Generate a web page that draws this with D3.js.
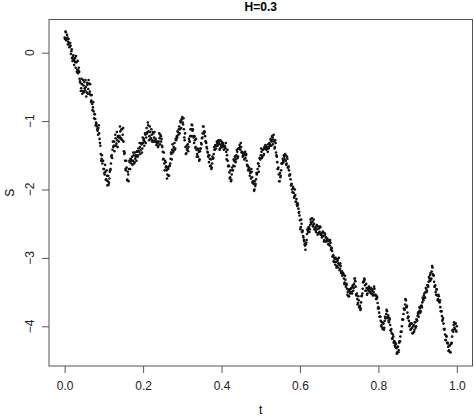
<!DOCTYPE html>
<html>
<head>
<meta charset="utf-8">
<script src="https://cdn.jsdelivr.net/npm/d3@7"></script>
<style>
  body { margin: 0; background: #fff; }
  text { font-family: "Liberation Sans", Arial, sans-serif; }
</style>
</head>
<body>
<div id="chart"></div>
<script>
const W = 474, H = 416;
const title = "H=0.3";
const xTicks = [0, 0.2, 0.4, 0.6, 0.8, 1.0];
const yTicks = [0, -1, -2, -3, -4];
const step = 0.002; // sampling interval in t

// S at t = 0, 0.002, 0.004 ... 1
const S = [
  0.22, 0.31, 0.18, 0.26, 0.12, 0.2, 0.08, 0.14, -0.02, 0.05,
  -0.12, -0.04, -0.18, -0.08, -0.22, -0.14, -0.25, -0.3, -0.22, -0.38,
  -0.44, -0.52, -0.46, -0.56, -0.48, -0.43, -0.55, -0.5, -0.58, -0.47,
  -0.53, -0.45, -0.57, -0.62, -0.7, -0.75, -0.8, -0.86, -0.9, -0.97,
  -1.02, -1.08, -1.14, -1.1, -1.18, -1.32, -1.48, -1.55, -1.62, -1.58,
  -1.7, -1.78, -1.74, -1.85, -1.8, -1.88, -1.93, -1.84, -1.72, -1.62,
  -1.5, -1.42, -1.38, -1.3, -1.36, -1.25, -1.33, -1.28, -1.22, -1.3,
  -1.22, -1.15, -1.25, -1.12, -1.2, -1.3, -1.48, -1.58, -1.72, -1.68,
  -1.86, -1.78, -1.7, -1.6, -1.55, -1.62, -1.52, -1.58, -1.5, -1.6,
  -1.55, -1.5, -1.45, -1.52, -1.4, -1.45, -1.38, -1.42, -1.34, -1.4,
  -1.32, -1.26, -1.3, -1.2, -1.24, -1.18, -1.02, -1.15, -1.22, -1.16,
  -1.25, -1.2, -1.28, -1.18, -1.24, -1.3, -1.26, -1.35, -1.3, -1.38,
  -1.3, -1.25, -1.2, -1.3, -1.36, -1.45, -1.55, -1.62, -1.58, -1.68,
  -1.72, -1.78, -1.7, -1.8, -1.65, -1.55, -1.48, -1.42, -1.46, -1.38,
  -1.32, -1.4, -1.28, -1.22, -1.15, -1.2, -1.08, -1.12, -1.02, -0.98,
  -0.94, -1.05, -1.12, -1.28, -1.38, -1.47, -1.42, -1.34, -1.38, -1.3,
  -1.22, -1.12, -1.05, -1.14, -1.22, -1.32, -1.28, -1.38, -1.42, -1.48,
  -1.52, -1.45, -1.56, -1.4, -1.32, -1.25, -1.18, -1.08, -1.15, -1.22,
  -1.3, -1.38, -1.45, -1.52, -1.6, -1.55, -1.65, -1.7, -1.62, -1.55,
  -1.48, -1.42, -1.35, -1.4, -1.3, -1.36, -1.28, -1.33, -1.4, -1.35,
  -1.3, -1.38, -1.32, -1.42, -1.36, -1.4, -1.45, -1.5, -1.58, -1.65,
  -1.75, -1.82, -1.88, -1.78, -1.72, -1.65, -1.58, -1.52, -1.6, -1.5,
  -1.45, -1.52, -1.4, -1.35, -1.42, -1.38, -1.45, -1.52, -1.48, -1.56,
  -1.45, -1.5, -1.58, -1.65, -1.72, -1.68, -1.8, -1.75, -1.7, -1.82,
  -1.88, -1.92, -2.0, -1.95, -1.85, -1.78, -1.7, -1.62, -1.66, -1.55,
  -1.5, -1.45, -1.52, -1.42, -1.48, -1.4, -1.35, -1.42, -1.38, -1.45,
  -1.4, -1.32, -1.36, -1.28, -1.3, -1.24, -1.27, -1.3, -1.38, -1.32,
  -1.5, -1.6, -1.7, -1.78, -1.88, -1.82, -1.72, -1.62, -1.55, -1.6,
  -1.52, -1.48, -1.58, -1.62, -1.55, -1.68, -1.72, -1.78, -1.85, -1.92,
  -2.0, -1.96, -2.05, -2.1, -2.08, -2.18, -2.22, -2.2, -2.28, -2.33,
  -2.45, -2.55, -2.5, -2.62, -2.68, -2.74, -2.8, -2.88, -2.78, -2.65,
  -2.6, -2.55, -2.62, -2.52, -2.48, -2.42, -2.47, -2.52, -2.5, -2.56,
  -2.6, -2.54, -2.58, -2.64, -2.57, -2.62, -2.55, -2.66, -2.7, -2.62,
  -2.68, -2.74, -2.66, -2.7, -2.76, -2.72, -2.8, -2.75, -2.82, -2.78,
  -2.85, -2.9, -2.98, -3.05, -3.0, -3.1, -3.06, -3.12, -3.04, -3.08,
  -3.1, -3.16, -3.12, -3.2, -3.26, -3.22, -3.3, -3.36, -3.32, -3.4,
  -3.45, -3.5, -3.56, -3.48, -3.52, -3.45, -3.5, -3.42, -3.48, -3.38,
  -3.3, -3.42, -3.55, -3.6, -3.66, -3.62, -3.72, -3.76, -3.65, -3.55,
  -3.45, -3.35, -3.3, -3.4, -3.48, -3.44, -3.52, -3.46, -3.42, -3.5,
  -3.46, -3.52, -3.48, -3.55, -3.5, -3.45, -3.55, -3.6, -3.56, -3.66,
  -3.72, -3.8, -3.86, -3.92, -3.98, -4.02, -3.95, -4.05, -3.92, -3.88,
  -3.82, -3.78, -3.86, -3.92, -3.88, -3.98, -4.06, -4.1, -4.18, -4.15,
  -4.22, -4.28, -4.25, -4.32, -4.38, -4.3, -4.35, -4.22, -4.15, -4.08,
  -4.0, -3.9, -3.82, -3.75, -3.68, -3.62, -3.72, -3.8, -3.86, -3.92,
  -3.98, -4.05, -3.96, -4.02, -4.1, -3.98, -4.05, -3.94, -4.0, -3.9,
  -3.85, -3.82, -3.78, -3.74, -3.78, -3.7, -3.65, -3.6, -3.55, -3.58,
  -3.5, -3.45, -3.48, -3.4, -3.35, -3.3, -3.25, -3.32, -3.2, -3.14,
  -3.25, -3.35, -3.42, -3.5, -3.46, -3.55, -3.6, -3.56, -3.65, -3.72,
  -3.78, -3.85, -3.9, -3.96, -4.05, -4.12, -4.2, -4.15, -4.25, -4.3,
  -4.35, -4.28, -4.38, -4.25, -4.15, -4.05, -3.98, -4.02, -3.96, -4.06,
  -4.0
];

// S at the in-between times t = 0.001, 0.003 ... 0.999
const Smid = [
  0.2, 0.3, 0.2, 0.22, 0.16, 0.14, 0.1, 0.1, 0.02, -0.08,
  -0.06, -0.1, -0.12, -0.14, -0.05, -0.28, -0.12, -0.26, -0.28, -0.42,
  -0.56, -0.38, -0.6, -0.4, -0.58, -0.52, -0.4, -0.64, -0.44, -0.6,
  -0.4, -0.6, -0.46, -0.72, -0.62, -0.84, -0.72, -0.96, -0.9, -1.06,
  -1.04, -1.12, -1.2, -1.06, -1.26, -1.36, -1.58, -1.5, -1.58, -1.7,
  -1.76, -1.64, -1.86, -1.72, -1.94, -1.8, -1.9, -1.74, -1.7, -1.52,
  -1.54, -1.3, -1.36, -1.44, -1.2, -1.36, -1.16, -1.38, -1.24, -1.24,
  -1.08, -1.26, -1.12, -1.28, -1.1, -1.44, -1.46, -1.7, -1.58, -1.86,
  -1.74, -1.88, -1.58, -1.7, -1.56, -1.58, -1.64, -1.46, -1.62, -1.46,
  -1.52, -1.58, -1.44, -1.5, -1.44, -1.32, -1.48, -1.32, -1.46, -1.24,
  -1.28, -1.36, -1.18, -1.32, -1.1, -1.16, -1.06, -1.28, -1.08, -1.26,
  -1.12, -1.3, -1.16, -1.3, -1.16, -1.28, -1.3, -1.32, -1.32, -1.36,
  -1.18, -1.34, -1.22, -1.26, -1.38, -1.56, -1.46, -1.72, -1.6, -1.66,
  -1.84, -1.68, -1.8, -1.66, -1.62, -1.46, -1.56, -1.34, -1.44, -1.4,
  -1.42, -1.26, -1.26, -1.24, -1.16, -1.12, -1.18, -1.0, -1.1, -0.96,
  -1.02, -0.96, -1.24, -1.18, -1.48, -1.36, -1.4, -1.44, -1.26, -1.3,
  -1.12, -1.22, -1.06, -1.12, -1.24, -1.22, -1.39, -1.26, -1.52, -1.4,
  -1.42, -1.58, -1.44, -1.4, -1.34, -1.24, -1.08, -1.18, -1.16, -1.3,
  -1.32, -1.4, -1.46, -1.5, -1.5, -1.66, -1.56, -1.68, -1.52, -1.54,
  -1.38, -1.42, -1.36, -1.36, -1.32, -1.34, -1.3, -1.42, -1.28, -1.38,
  -1.32, -1.34, -1.36, -1.38, -1.38, -1.32, -1.56, -1.42, -1.66, -1.66,
  -1.84, -1.72, -1.86, -1.68, -1.72, -1.56, -1.66, -1.52, -1.56, -1.42,
  -1.54, -1.4, -1.4, -1.38, -1.32, -1.46, -1.46, -1.5, -1.5, -1.46,
  -1.54, -1.48, -1.64, -1.66, -1.7, -1.72, -1.76, -1.84, -1.74, -1.9,
  -1.9, -2.02, -1.88, -1.92, -1.76, -1.76, -1.62, -1.74, -1.54, -1.56,
  -1.4, -1.54, -1.42, -1.5, -1.38, -1.4, -1.36, -1.4, -1.4, -1.34,
  -1.38, -1.34, -1.26, -1.36, -1.22, -1.34, -1.2, -1.4, -1.28, -1.46,
  -1.52, -1.7, -1.68, -1.88, -1.76, -1.8, -1.62, -1.62, -1.58, -1.5,
  -1.56, -1.5, -1.64, -1.52, -1.68, -1.66, -1.8, -1.78, -1.94, -1.92,
  -2.04, -1.98, -2.12, -2.0, -2.18, -2.14, -2.24, -2.22, -2.34, -2.38,
  -2.58, -2.44, -2.62, -2.6, -2.7, -2.76, -2.82, -2.8, -2.74, -2.58,
  -2.62, -2.56, -2.58, -2.44, -2.5, -2.42, -2.54, -2.44, -2.58, -2.56,
  -2.62, -2.52, -2.66, -2.54, -2.64, -2.54, -2.66, -2.64, -2.68, -2.62,
  -2.76, -2.64, -2.76, -2.7, -2.74, -2.74, -2.8, -2.76, -2.74, -2.88,
  -2.86, -2.98, -2.96, -3.06, -3.02, -3.0, -3.14, -3.02, -3.14, -3.0,
  -3.18, -3.08, -3.22, -3.2, -3.24, -3.24, -3.38, -3.26, -3.42, -3.38,
  -3.54, -3.46, -3.56, -3.46, -3.5, -3.44, -3.52, -3.4, -3.44, -3.3,
  -3.34, -3.54, -3.52, -3.68, -3.56, -3.72, -3.7, -3.74, -3.56, -3.52,
  -3.36, -3.34, -3.32, -3.48, -3.38, -3.54, -3.44, -3.48, -3.44, -3.5,
  -3.44, -3.52, -3.46, -3.54, -3.42, -3.54, -3.54, -3.6, -3.58, -3.74,
  -3.74, -3.86, -3.86, -4.0, -3.94, -4.04, -3.96, -4.02, -3.86, -3.88,
  -3.76, -3.88, -3.84, -3.94, -3.9, -4.06, -4.04, -4.18, -4.12, -4.24,
  -4.22, -4.3, -4.26, -4.4, -4.3, -4.38, -4.24, -4.22, -4.08, -4.08,
  -3.9, -3.9, -3.74, -3.76, -3.6, -3.72, -3.7, -3.88, -3.86, -4.0,
  -3.96, -4.04, -3.96, -4.1, -4.0, -4.08, -3.94, -4.02, -3.9, -3.92,
  -3.8, -3.86, -3.72, -3.8, -3.7, -3.72, -3.58, -3.62, -3.52, -3.58,
  -3.44, -3.5, -3.4, -3.42, -3.28, -3.34, -3.22, -3.3, -3.12, -3.24,
  -3.26, -3.42, -3.4, -3.54, -3.46, -3.62, -3.54, -3.64, -3.62, -3.78,
  -3.78, -3.92, -3.88, -4.04, -4.04, -4.2, -4.14, -4.24, -4.24, -4.36,
  -4.28, -4.38, -4.26, -4.24, -4.06, -4.08, -3.94, -4.04, -3.96, -4.08
];

const points = S.map((s, i) => ({ t: i * step, s }))
  .concat(Smid.map((s, i) => ({ t: i * step + step / 2, s })));

const box = { left: 49, right: 472.5, top: 19.5, bottom: 366 };

const svg = d3.select("#chart").append("svg")
    .attr("width", W)
    .attr("height", H);

const x = d3.scaleLinear()
    .domain([-0.04, 1.04])
    .range([box.left, box.right]);

const y = d3.scaleLinear()
    .domain([-4.58, 0.485])
    .range([box.bottom, box.top]);

// points
svg.append("g")
  .selectAll("circle")
  .data(points)
  .join("circle")
    .attr("cx", d => x(d.t))
    .attr("cy", d => y(d.s))
    .attr("r", 1.3)
    .attr("fill", "#111");

// frame
svg.append("rect")
    .attr("x", box.left)
    .attr("y", box.top)
    .attr("width", box.right - box.left)
    .attr("height", box.bottom - box.top)
    .attr("fill", "none")
    .attr("stroke", "#555")
    .attr("stroke-width", 1);

// x axis, ticks below the frame like R
const xAxis = svg.append("g")
    .attr("transform", `translate(0,${box.bottom})`)
    .call(d3.axisBottom(x).tickValues(xTicks).tickFormat(d3.format(".1f")).tickSize(7).tickPadding(8));
xAxis.select(".domain").remove();
xAxis.selectAll("line").attr("stroke", "#555");
xAxis.selectAll("text").attr("font-size", 12).attr("fill", "#222");

// y axis: ticks from d3, labels drawn upright-rotated by hand
const yAxis = svg.append("g")
    .attr("transform", `translate(${box.left},0)`)
    .call(d3.axisLeft(y).tickValues(yTicks).tickSize(7).tickFormat(""));
yAxis.select(".domain").remove();
yAxis.selectAll("line").attr("stroke", "#555");

svg.append("g")
  .selectAll("text")
  .data(yTicks)
  .join("text")
    .attr("transform", d => `translate(30,${y(d)}) rotate(-90)`)
    .attr("dy", "0.35em")
    .attr("text-anchor", "middle")
    .attr("font-size", 12)
    .attr("fill", "#222")
    .text(d => d3.format("d")(d));

svg.append("text")
    .attr("x", (box.left + box.right) / 2)
    .attr("y", 11)
    .attr("text-anchor", "middle")
    .attr("font-size", 12)
    .attr("font-weight", "bold")
    .text(title);

svg.append("text")
    .attr("x", (box.left + box.right) / 2)
    .attr("y", 414)
    .attr("text-anchor", "middle")
    .attr("font-size", 12)
    .text("t");

svg.append("text")
    .attr("transform", `translate(14,${(box.top + box.bottom) / 2}) rotate(-90)`)
    .attr("text-anchor", "middle")
    .attr("font-size", 12)
    .text("S");
</script>
</body>
</html>
